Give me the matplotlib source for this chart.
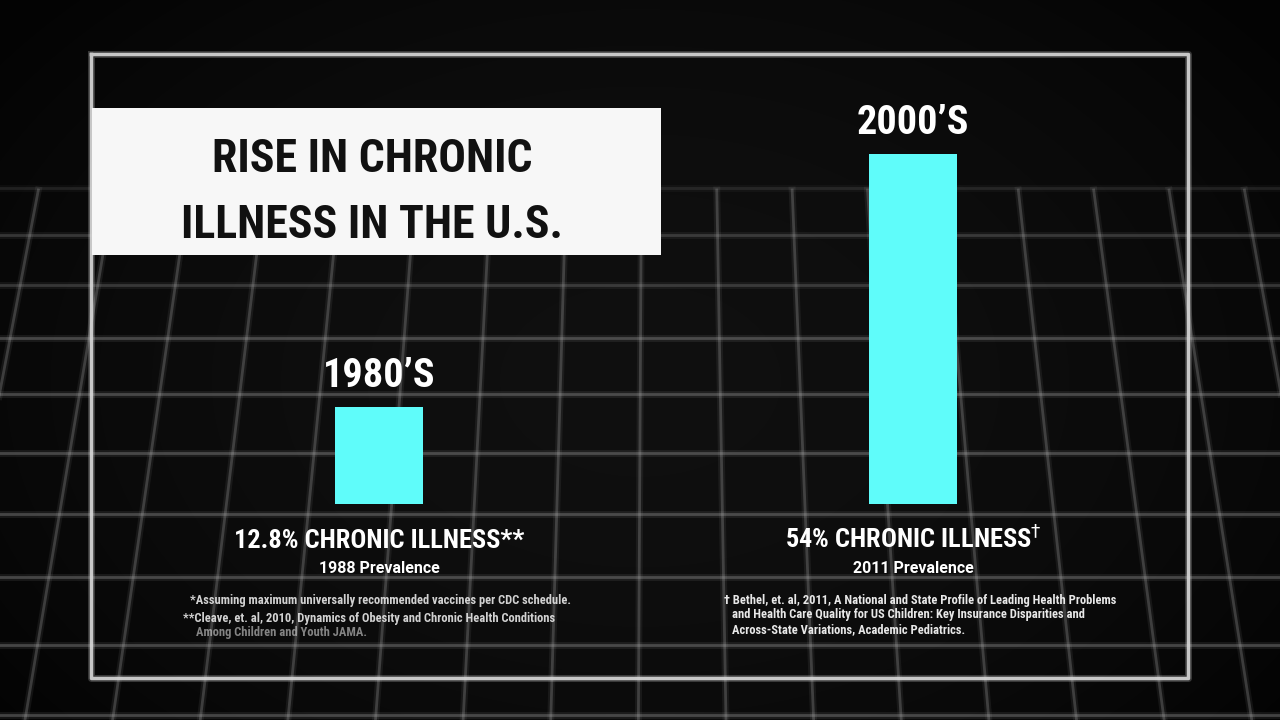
import numpy as np
import matplotlib
matplotlib.use("Agg")
import matplotlib.pyplot as plt
from matplotlib import font_manager, transforms

# data
eras = ["1980\u2019S", "2000\u2019S"]
prevalence = [12.8, 54.0]
value_labels = ["12.8% CHRONIC ILLNESS**", "54% CHRONIC ILLNESS$^{\\dagger}$"]
year_labels = ["1988 Prevalence", "2011 Prevalence"]
title_lines = ["RISE IN CHRONIC", "ILLNESS IN THE U.S."]
notes_left = ["*Assuming maximum universally recommended vaccines per CDC schedule.",
              "**Cleave, et. al, 2010, Dynamics of Obesity and Chronic Health Conditions",
              "Among Children and Youth JAMA."]
notes_right = ["\u2020 Bethel, et. al, 2011, A National and State Profile of Leading Health Problems",
               "and Health Care Quality for US Children: Key Insurance Disparities and",
               "Across-State Variations, Academic Pediatrics."]

names = sorted(set(f.name for f in font_manager.fontManager.ttflist))


def pick(cands):
    for c in cands:
        if c in names:
            return c
    return "DejaVu Sans"


narrow = pick(["Roboto Condensed", "Liberation Sans Narrow", "DejaVu Sans Condensed"])
plain = pick(["Roboto", "Liberation Sans", "DejaVu Sans"])

W, H = 1280, 720
fig = plt.figure(figsize=(12.8, 7.2), dpi=100)
fig.patch.set_facecolor("#080808")

# full-figure axes in pixel coords for the backdrop
bg = fig.add_axes([0, 0, 1, 1])
bg.set_xlim(0, W)
bg.set_ylim(H, 0)
bg.axis("off")

yy, xx = np.mgrid[0:H, 0:W]
r = np.sqrt(((xx - 640) / 700.0) ** 2 + ((yy - 380) / 480.0) ** 2)
shade = np.clip(0.06 - 0.035 * r ** 2, 0.015, 0.1)
bg.imshow(shade, cmap="gray", vmin=0, vmax=1, extent=(0, W, H, 0), zorder=0)

# perspective grid, soft glow + core line
gy = [188, 235, 285, 338, 394, 453, 514, 577, 645, 715]
x0s = np.arange(660 - 77 * 9, 660 + 77 * 9, 77) - 19
ys = np.linspace(190, 720, 30)
for lw, k in [(5, 0.35), (2.0, 1.0)]:
    for y in gy:
        a = 0.12 if y < 230 else (0.22 if y < 300 else 0.3)
        bg.plot([0, W], [y, y], color="#b0b0b0", lw=lw, alpha=a * k, zorder=1)
    for x0 in x0s:
        xs = 660 + (x0 - 660) * (1 + 0.0003 * (ys - 260))
        bg.plot(xs, ys, color="#b0b0b0", lw=lw, alpha=0.26 * k, zorder=1)

# frame
bg.plot([91, 1188, 1188, 91, 91], [54, 54, 678, 678, 54], color="#d0d0d0", lw=5, alpha=0.25, zorder=2)
bg.plot([91, 1188, 1188, 91, 91], [54, 54, 678, 678, 54], color="#d8d8d8", lw=2.5, alpha=0.9, zorder=2)

# title box
bg.add_patch(plt.Rectangle((92, 108), 569, 147, facecolor="#f7f7f7", edgecolor="none", zorder=3))
for k, line in enumerate(title_lines):
    bg.text(372, 172 + 66 * k, line, ha="center", va="baseline", color="#111111", fontsize=33,
            fontweight="bold", family=narrow, zorder=4)

# bar axes
ax = fig.add_axes([112 / W, 216 / H, 1068 / W, 350 / H])
ax.set_xlim(-0.5, 1.5)
base = 3.0
ax.set_ylim(-base, 54)
ax.axis("off")
xpos = np.arange(len(eras))
ax.bar(xpos, np.array(prevalence) + base, bottom=-base, width=0.165, color="#5ffcfa", zorder=3)

for i, (era, v) in enumerate(zip(eras, prevalence)):
    ax.annotate(era, xy=(i, v), xytext=(0, 20), textcoords="offset pixels", ha="center", va="baseline",
                color="white", fontsize=29, fontweight="bold", family=narrow)

mix = transforms.blended_transform_factory(ax.transData, bg.transData)
for i in xpos:
    bg.text(i, 548, value_labels[i], transform=mix, ha="center", va="baseline", color="white",
            fontsize=19, fontweight="bold", family=narrow)
    bg.text(i, 573, year_labels[i], transform=mix, ha="center", va="baseline", color="white",
            fontsize=11.5, fontweight="bold", family=plain)

left_x = [190, 183, 196]
left_y = [604, 622, 636]
for k, line in enumerate(notes_left):
    bg.text(left_x[k], left_y[k], line, ha="left", va="baseline", color="#e8e8e8",
            fontsize=9, fontweight="bold", family=narrow, alpha=0.9 if k < 2 else 0.55)
right_x = [724, 732, 732]
right_y = [604, 618, 633]
for k, line in enumerate(notes_right):
    bg.text(right_x[k], right_y[k], line, ha="left", va="baseline", color="#e8e8e8",
            fontsize=9, fontweight="bold", family=narrow)

fig.savefig("out.png", dpi=100, facecolor=fig.get_facecolor())
